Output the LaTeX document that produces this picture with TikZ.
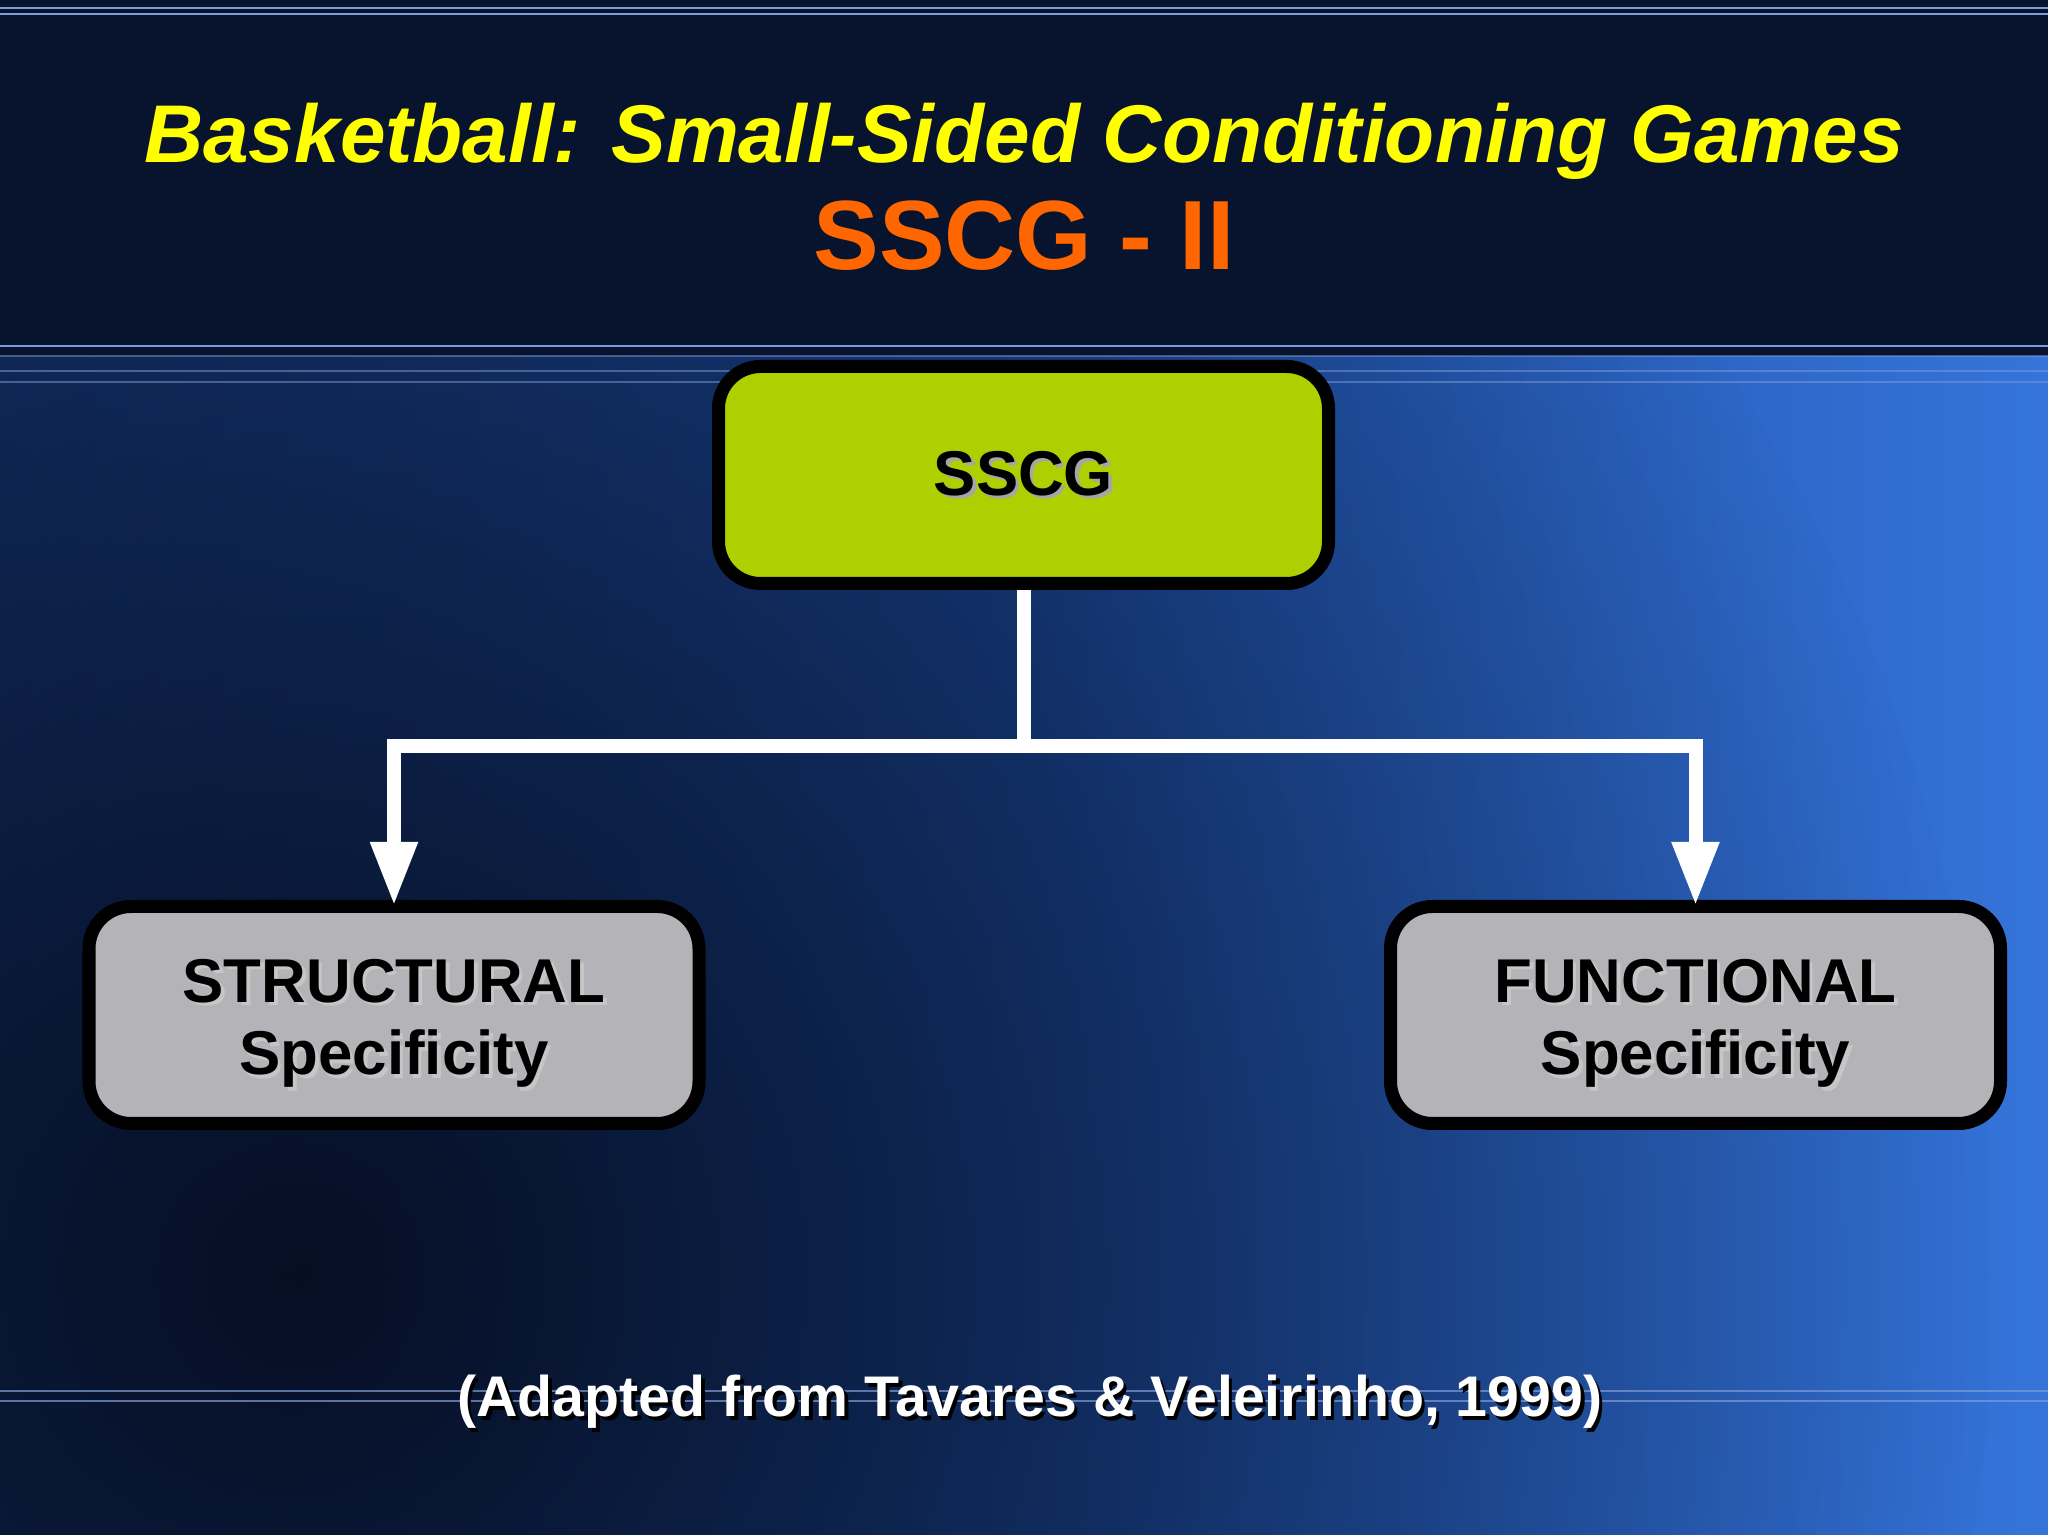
\documentclass[tikz,border=0pt]{standalone}
\usepackage{fontspec}
\setmainfont{Liberation Sans}
\usetikzlibrary{arrows.meta,positioning,fadings}
\definecolor{headbg}{HTML}{08142E}
\definecolor{bodyleft}{HTML}{173A7C}
\definecolor{bodymid}{HTML}{1B4A9C}
\definecolor{bodyright}{HTML}{3574DA}
\definecolor{spotdark}{HTML}{050C1E}
\definecolor{rulelight}{HTML}{7F9BD6}
\definecolor{sscggreen}{HTML}{AFD000}
\definecolor{boxgrey}{HTML}{B4B4B8}
\definecolor{titleyellow}{HTML}{FFFF00}
\definecolor{subtitleorange}{HTML}{FF6600}
\newcommand{\shd}[2]{\leavevmode\rlap{\hspace{1pt}\raisebox{-1pt}{\textcolor{#1}{#2}}}#2}
\newcommand{\topstrut}{\rule{0pt}{18pt}}
\tikzfading[name=spotfade, inner color=transparent!0, outer color=transparent!100]

\begin{document}
\begin{tikzpicture}[>=Stealth,
  box/.style={draw=black, line width=0.13cm, rounded corners=0.42cm,
    minimum width=6.1cm, minimum height=2.17cm, align=center},
  link/.style={draw=white, line width=0.14cm},
  tip/.style={-{Triangle[width=0.44cm,length=0.64cm]}, shorten >=-0.06cm},
  rule/.style={rulelight, line width=0.02cm}]
  \useasboundingbox (0,0) rectangle (20.48,15.35);
  % background
  \shade[left color=bodyleft, right color=bodyright, middle color=bodymid] (0,0) rectangle (20.48,11.79);
  \begin{scope}
    \clip (0,0) rectangle (20.48,11.79);
    \fill[spotdark, path fading=spotfade, opacity=0.95] (3,2.6) circle (17);
  \end{scope}
  \fill[headbg] (0,11.79) rectangle (20.48,15.35);
  \draw[rule] (0,15.27) -- (20.48,15.27);
  \draw[rule] (0,15.21) -- (20.48,15.21);
  \draw[rule] (0,11.89) -- (20.48,11.89);
  \draw[rule, opacity=0.5] (0,11.79) -- (20.48,11.79);
  \draw[rule, opacity=0.5] (0,11.64) -- (20.48,11.64);
  \draw[rule, opacity=0.5] (0,11.53) -- (20.48,11.53);
  \draw[rule, opacity=0.7] (0,1.44) -- (20.48,1.44);
  \draw[rule, opacity=0.7] (0,1.34) -- (20.48,1.34);
  % titles
  \node (title) [anchor=base, text=titleyellow, font=\bfseries\itshape\fontsize{23.3}{26}\selectfont]
    at (10.24,13.72) {Basketball: Small-Sided Conditioning Games};
  \node (subtitle) [anchor=base, text=subtitleorange, font=\bfseries\fontsize{28}{32}\selectfont]
    at (10.24,12.65) {SSCG - II};
  % boxes
  \node (sscg) [box, fill=sscggreen, font=\bfseries\fontsize{18}{22}\selectfont]
    at (10.235,10.60) {\shd{gray!70}{SSCG}};
  \node (struct) [box, fill=boxgrey, below=3.1cm of sscg, xshift=-6.295cm,
    font=\bfseries\fontsize{17.6}{20.6}\selectfont] {\topstrut\shd{gray!45}{STRUCTURAL}\\\shd{gray!45}{Specificity}};
  \node (func) [box, fill=boxgrey, below=3.1cm of sscg, xshift=6.72cm,
    font=\bfseries\fontsize{17.6}{20.6}\selectfont] {\topstrut\shd{gray!45}{FUNCTIONAL}\\\shd{gray!45}{Specificity}};
  % connectors
  \draw[link] (sscg.south) -- ++(0,-1.56) coordinate (split);
  \draw[link, tip] (split) -| (struct.north);
  \draw[link, tip] (split) -| (func.north);
  % source
  \node (source) [anchor=base, text=white, font=\bfseries\fontsize{16.3}{20}\selectfont]
    at (10.3,1.18) {\shd{black}{(Adapted from Tavares \& Veleirinho, 1999)}};
\end{tikzpicture}
\end{document}
